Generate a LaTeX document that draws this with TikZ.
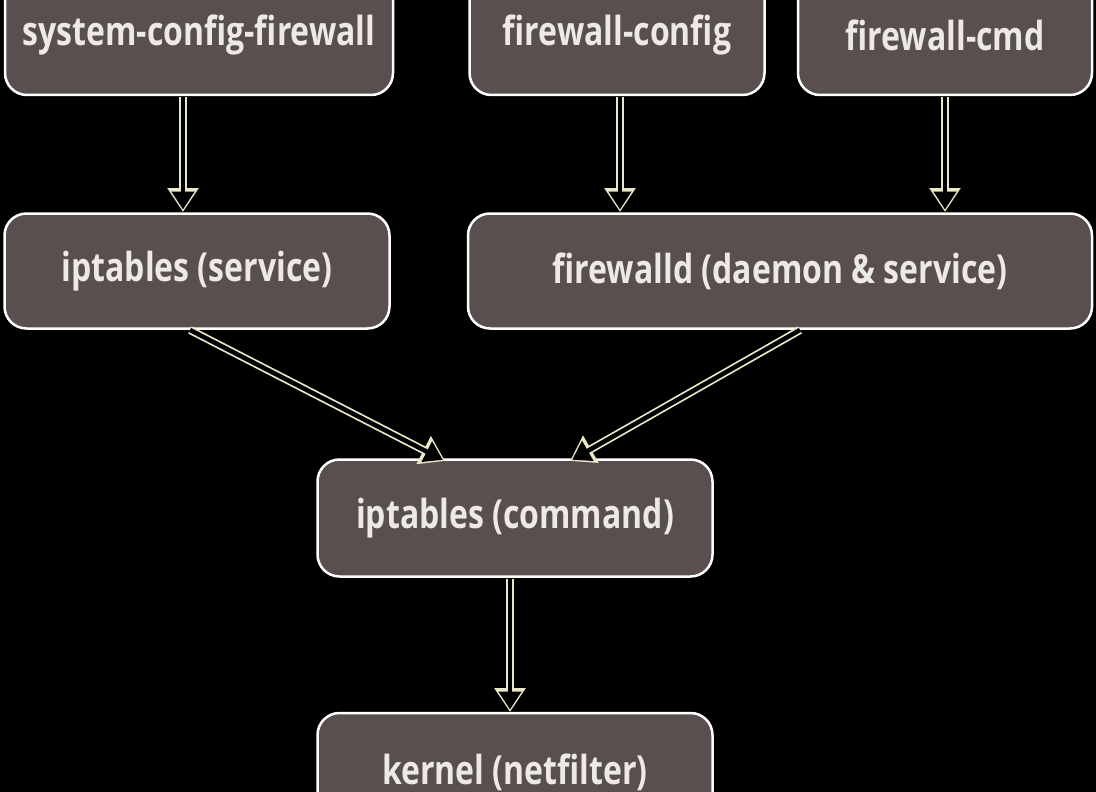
\documentclass[tikz,border=0pt]{standalone}
\usepackage{fontspec}
\setmainfont{Open Sans}[FakeStretch=0.8]
\usetikzlibrary{arrows.meta}
\definecolor{boxfill}{HTML}{594F4F}
\definecolor{boxtext}{HTML}{EDEAE6}
\definecolor{cream}{HTML}{EAE6C8}
\begin{document}
\begin{tikzpicture}[x=1pt,y=-1pt,
  box/.style={draw=white,line width=2.5pt,fill=boxfill,rounded corners=22pt,text=boxtext,
    font=\fontsize{40}{44}\selectfont\bfseries,inner sep=0pt,anchor=center},
  lbl/.style={text=boxtext,font=\fontsize{40}{44}\selectfont\bfseries},
  arro/.style={draw=cream,line width=8pt,-{Triangle[width=30pt,length=24pt,fill=cream]}},
  arri/.style={draw=black,line width=4.5pt,shorten >=2.5pt,-{Triangle[width=22pt,length=18pt,fill=black]}}]
\fill[black] (0,0) rectangle (1096,792);
\useasboundingbox (0,0) rectangle (1096,792);
\begin{scope}
\clip (0,0) rectangle (1096,792);
\node[box,minimum width=388pt,minimum height=170pt] (scf) at (199,10) {};
\node[lbl] at (199,35) {system-config-firewall};
\node[box,minimum width=295pt,minimum height=170pt] (fc) at (617,10) {};
\node[lbl] at (617,35) {firewall-config};
\node[box,minimum width=294pt,minimum height=170pt] (fcmd) at (945,10) {};
\node[lbl] at (945,35) {firewall-cmd};
\node[box,minimum width=385pt,minimum height=115pt] (ipts) at (197,271) {iptables (service)};
\node[box,minimum width=624pt,minimum height=115pt] (fwd) at (780,271) {firewalld (daemon \& service)};
\node[box,minimum width=395pt,minimum height=117pt] (ipc) at (515,518) {iptables (command)};
\node[box,minimum width=395pt,minimum height=160pt] (kern) at (515,793) {};
\node[lbl] at (515,772) {kernel (netfilter)};
\end{scope}
\foreach \a/\b in {{(183,97)}/{(183,212)},{(620,97)}/{(620,212)},{(945,97)}/{(945,212)},
  {(190,330)}/{(445,461)},{(800,330)}/{(570,461)},{(510,579)}/{(510,712)}}{
  \draw[arro] \a -- \b;
  \draw[arri] \a -- \b;
}
\end{tikzpicture}
\end{document}
